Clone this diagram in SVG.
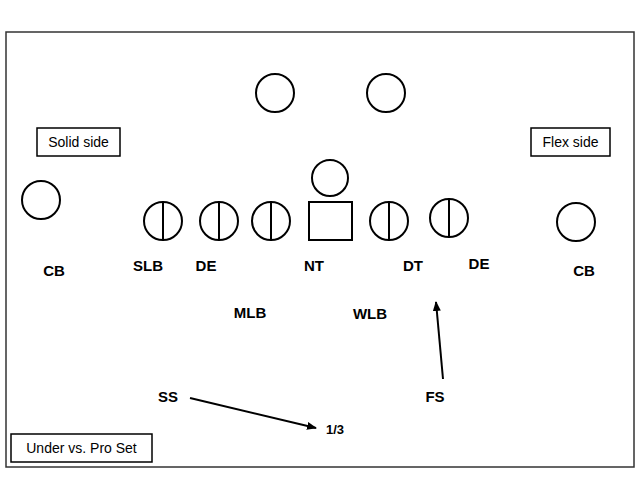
<svg xmlns="http://www.w3.org/2000/svg" width="640" height="480" viewBox="0 0 640 480">
<style>
.s{fill:none;stroke:#000;stroke-width:2}
.l{font-family:"Liberation Sans",Arial,sans-serif;font-weight:bold;font-size:15px;fill:#000;text-anchor:middle}
.b{font-family:"Liberation Sans",Arial,sans-serif;font-size:14px;fill:#000}
</style>
<defs><marker id="a" markerWidth="10" markerHeight="8" refX="9" refY="4" orient="auto" markerUnits="userSpaceOnUse"><path d="M0,0L10,4L0,8z" fill="#000"/></marker></defs>
<rect width="640" height="480" fill="#fff"/>
<rect x="6" y="32" width="628" height="435" fill="none" stroke="#333" stroke-width="1.5"/>
<g id="solid"><rect x="37" y="128" width="83" height="28" fill="#fff" stroke="#000" stroke-width="1.5"/><text class="b" x="78.5" y="147" text-anchor="middle">Solid side</text></g>
<g id="flex"><rect x="531" y="128" width="79" height="28" fill="#fff" stroke="#000" stroke-width="1.5"/><text class="b" x="570.5" y="147" text-anchor="middle">Flex side</text></g>
<g id="title"><rect x="11" y="434" width="141" height="28" fill="#fff" stroke="#000" stroke-width="1.5"/><text class="b" x="81.5" y="453" text-anchor="middle">Under vs. Pro Set</text></g>
<g id="o1"><circle class="s" cx="275" cy="93" r="19"/></g>
<g id="o2"><circle class="s" cx="386" cy="93" r="19"/></g>
<g id="qb"><circle class="s" cx="330" cy="178" r="18"/></g>
<g id="center"><rect class="s" x="309" y="202" width="43" height="38"/></g>
<g id="cbl"><circle class="s" cx="41" cy="200" r="19"/><text class="l" x="54" y="276">CB</text></g>
<g id="cbr"><circle class="s" cx="576" cy="222" r="19"/><text class="l" x="584" y="276">CB</text></g>
<g id="slb"><circle class="s" cx="163" cy="221" r="19"/><line class="s" x1="163" y1="202" x2="163" y2="240"/><text class="l" x="148" y="271">SLB</text></g>
<g id="de1"><circle class="s" cx="219" cy="221" r="19"/><line class="s" x1="219" y1="202" x2="219" y2="240"/><text class="l" x="206" y="271">DE</text></g>
<g id="dl3"><circle class="s" cx="271" cy="221" r="19"/><line class="s" x1="271" y1="202" x2="271" y2="240"/></g>
<g id="dt"><circle class="s" cx="389" cy="221" r="19"/><line class="s" x1="389" y1="202" x2="389" y2="240"/><text class="l" x="413" y="271">DT</text></g>
<g id="de2"><circle class="s" cx="449" cy="218" r="19"/><line class="s" x1="449" y1="199" x2="449" y2="237"/><text class="l" x="479" y="269">DE</text></g>
<g id="nt"><text class="l" x="314" y="271">NT</text></g>
<g id="mlb"><text class="l" x="250" y="318">MLB</text></g>
<g id="wlb"><text class="l" x="370" y="319">WLB</text></g>
<g id="ss"><text class="l" x="168" y="402">SS</text></g>
<g id="fs"><text class="l" x="435" y="402">FS</text></g>
<g id="third"><text class="l" x="335" y="434" style="font-size:13px">1/3</text></g>
<g id="connectors">
<line class="s" x1="190" y1="398" x2="316" y2="428" marker-end="url(#a)" stroke-width="1.8"/>
<line class="s" x1="443" y1="379" x2="436" y2="302" marker-end="url(#a)" stroke-width="1.8"/>
</g>
</svg>
